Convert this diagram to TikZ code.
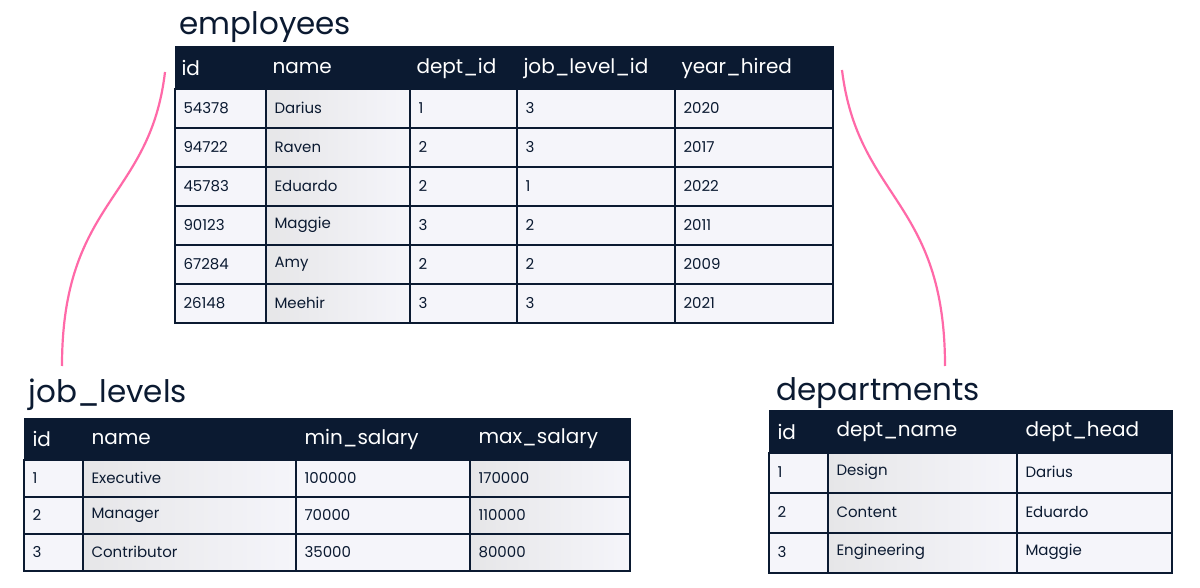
\documentclass[tikz,border=0pt]{standalone}
\usepackage{fontspec}
\setmainfont{Poppins}
\definecolor{navy}{HTML}{0B1A31}
\definecolor{cellbg}{HTML}{F5F5FA}
\definecolor{namebg}{HTML}{EBEBEF}
\definecolor{pinkc}{HTML}{FF69A8}
\tikzset{
  hdr/.style={fill=navy,draw=navy},
  cellbox/.style={fill=cellbg,draw=navy,line width=1.3pt},
  namebox/.style={left color=namebg!80!gray!60,right color=cellbg,draw=navy,line width=1.3pt},
  htext/.style={anchor=west,text=white,font=\fontsize{20}{20}\selectfont},
  ctext/.style={anchor=west,text=navy,font=\fontsize{15}{15}\selectfont},
  ttext/.style={anchor=base west,text=navy,font=\fontsize{31}{31}\selectfont},
  link/.style={draw=pinkc,line width=2.2pt}
}
% \mytable{prefix}{col xs}{row ys}{header}{rows}
\begin{document}
\begin{tikzpicture}[x=1pt,y=-1pt]
\useasboundingbox (0,0) rectangle (1200,588);
\fill[white] (0,0) rectangle (1200,588);

% ---------- employees ----------
\node[ttext] (t1) at (176,35) {employees};
\fill[hdr] (175,46) rectangle (833,89);
\foreach \x/\t [count=\i] in {175/id,266/name,410/dept\_id,517/job\_level\_id,675/year\_hired}
  \node[htext] (eh\i) at (\x+3,68) {\t};
\foreach \a/\b/\c/\d/\e [count=\r] in {54378/Darius/1/3/2020,94722/Raven/2/3/2017,45783/Eduardo/2/1/2022,90123/Maggie/3/2/2011,67284/Amy/2/2/2009,26148/Meehir/3/3/2021}{
  \pgfmathsetmacro\ya{89+(\r-1)*39}
  \pgfmathsetmacro\yb{\ya+39}
  \draw[cellbox] (175,\ya) rectangle (266,\yb);
  \draw[namebox] (266,\ya) rectangle (410,\yb);
  \draw[cellbox] (410,\ya) rectangle (517,\yb);
  \draw[cellbox] (517,\ya) rectangle (675,\yb);
  \draw[cellbox] (675,\ya) rectangle (833,\yb);
  \node[ctext] (ea\r) at (180,\ya+19) {\a};
  \node[ctext] (eb\r) at (271,\ya+19) {\b};
  \node[ctext] (ec\r) at (415,\ya+19) {\c};
  \node[ctext] (ed\r) at (522,\ya+19) {\d};
  \node[ctext] (ee\r) at (680,\ya+19) {\e};
}

% ---------- job_levels ----------
\node[ttext] (t2) at (25,402) {job\_levels};
\fill[hdr] (24,418) rectangle (630,460);
\foreach \x/\t [count=\i] in {24/id,83/name,296/min\_salary,470/max\_salary}
  \node[htext] (jh\i) at (\x+5,439) {\t};
\foreach \a/\b/\c/\d [count=\r] in {1/Executive/100000/170000,2/Manager/70000/110000,3/Contributor/35000/80000}{
  \pgfmathsetmacro\ya{460+(\r-1)*37}
  \pgfmathsetmacro\yb{\ya+37}
  \draw[cellbox] (24,\ya) rectangle (83,\yb);
  \draw[namebox] (83,\ya) rectangle (296,\yb);
  \draw[cellbox] (296,\ya) rectangle (470,\yb);
  \draw[namebox] (470,\ya) rectangle (630,\yb);
  \node[ctext] (ja\r) at (29,\ya+18) {\a};
  \node[ctext] (jb\r) at (88,\ya+18) {\b};
  \node[ctext] (jc\r) at (301,\ya+18) {\c};
  \node[ctext] (jd\r) at (475,\ya+18) {\d};
}

% ---------- departments ----------
\node[ttext] (t3) at (773,400) {departments};
\fill[hdr] (769,410) rectangle (1172,453);
\foreach \x/\t [count=\i] in {769/id,828/dept\_name,1017/dept\_head}
  \node[htext] (dh\i) at (\x+5,432) {\t};
\foreach \a/\b/\c [count=\r] in {1/Design/Darius,2/Content/Eduardo,3/Engineering/Maggie}{
  \pgfmathsetmacro\ya{453+(\r-1)*40}
  \pgfmathsetmacro\yb{\ya+40}
  \draw[cellbox] (769,\ya) rectangle (828,\yb);
  \draw[namebox] (828,\ya) rectangle (1017,\yb);
  \draw[cellbox] (1017,\ya) rectangle (1172,\yb);
  \node[ctext] (da\r) at (774,\ya+19) {\a};
  \node[ctext] (db\r) at (833,\ya+19) {\b};
  \node[ctext] (dc\r) at (1022,\ya+19) {\c};
}

% ---------- links ----------
\coordinate (l1) at (165,72);
\coordinate (l2) at (62,366);
\coordinate (r1) at (842,70);
\coordinate (r2) at (945,366);
\draw[link] (l1) .. controls (150,200) and (62,200) .. (l2);
\draw[link] (r1) .. controls (858,200) and (945,200) .. (r2);
\end{tikzpicture}
\end{document}
